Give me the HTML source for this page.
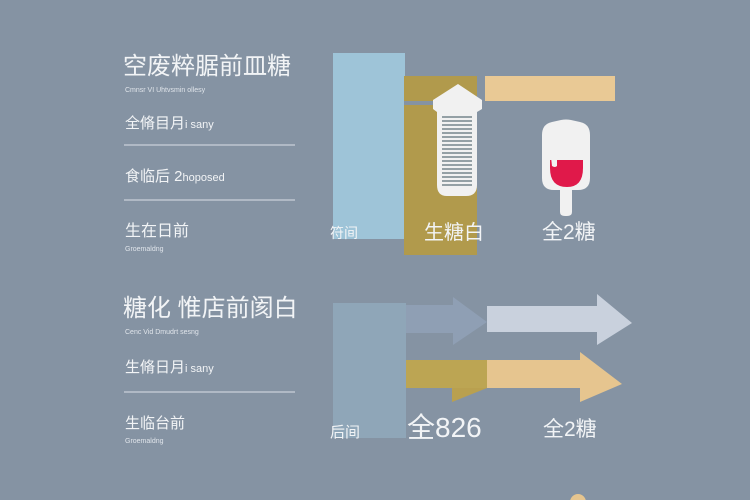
<!DOCTYPE html>
<html><head><meta charset="utf-8"><style>
body{margin:0;width:750px;height:500px;overflow:hidden;background:#8593a3;font-family:"Liberation Sans","Noto Sans CJK SC",sans-serif}
svg{display:block}
</style></head><body>
<svg width="750" height="500" viewBox="0 0 750 500" xmlns="http://www.w3.org/2000/svg" font-family="Liberation Sans, Noto Sans CJK SC, sans-serif">
<rect width="750" height="500" fill="#8593a3"/>
<g fill="#f2f4f6">
<text x="123" y="74" font-size="24">空废粹腒前皿糖</text>
<text x="125" y="92" font-size="7" fill="#dfe4ea">Cmnsr VI Uhtvsmin ollesy</text>
<text x="125" y="128" font-size="15">全脩目月<tspan font-size="11">i sany</tspan></text>
<text x="125" y="181" font-size="15">食临后 2<tspan font-size="11">hoposed</tspan></text>
<text x="125" y="236" font-size="16">生在日前</text>
<text x="125" y="251" font-size="7" fill="#dfe4ea">Groemaldng</text>
<text x="123" y="316" font-size="24">糖化 惟店前阂白</text>
<text x="125" y="334" font-size="7" fill="#dfe4ea">Cenc  Vid Dmudrt sesng</text>
<text x="125" y="372" font-size="15">生脩日月<tspan font-size="11">i sany</tspan></text>
<text x="125" y="428" font-size="15">生临台前</text>
<text x="125" y="443" font-size="7" fill="#dfe4ea">Groemaldng</text>
</g>
<g stroke="#c9d0d9" stroke-width="1.2">
<line x1="124" y1="145" x2="295" y2="145"/>
<line x1="124" y1="200" x2="295" y2="200"/>
<line x1="124" y1="392" x2="295" y2="392"/>
</g>
<rect x="333" y="53" width="72" height="186" fill="#9ec4d8"/>
<rect x="404" y="76" width="73" height="179" fill="#b19a4c"/>
<rect x="404" y="101" width="80" height="4" fill="#8593a3"/>
<rect x="485" y="76" width="130" height="25" fill="#e9c995"/>
<path d="M433 109 L433 100 L458 84 L482 100 L482 109 L477 112 L477 185 Q477 196 466 196 L447 196 Q437 196 437 185 L437 112 Z" fill="#f1f1f1"/>
<g stroke="#5d7078" stroke-width="1.3">
<line x1="442" y1="117" x2="472" y2="117"/><line x1="442" y1="121" x2="472" y2="121"/><line x1="442" y1="125" x2="472" y2="125"/><line x1="442" y1="129" x2="472" y2="129"/><line x1="442" y1="133" x2="472" y2="133"/><line x1="442" y1="137" x2="472" y2="137"/><line x1="442" y1="141" x2="472" y2="141"/><line x1="442" y1="145" x2="472" y2="145"/><line x1="442" y1="149" x2="472" y2="149"/><line x1="442" y1="153" x2="472" y2="153"/><line x1="442" y1="157" x2="472" y2="157"/><line x1="442" y1="161" x2="472" y2="161"/><line x1="442" y1="165" x2="472" y2="165"/><line x1="442" y1="169" x2="472" y2="169"/><line x1="442" y1="173" x2="472" y2="173"/><line x1="442" y1="177" x2="472" y2="177"/><line x1="442" y1="181" x2="472" y2="181"/><line x1="442" y1="185" x2="472" y2="185"/>
</g>
<path d="M542 135 Q542 124 552 122 L561 120 Q566 119 571 120 L580 122 Q590 124 590 135 L590 178 Q590 190 578 190 L572 190 L572 212 Q572 216 567 216 L565 216 Q560 216 560 212 L560 190 L554 190 Q542 190 542 178 Z" fill="#f1f1f1"/>
<path d="M550 160 L583 160 L583 168 Q583 187 567 187 Q550 187 550 168 Z" fill="#e0194a"/>
<path d="M550 148 Q550 144 554 144 Q557 144 557 150 L557 166 Q555 168 552 166 Z" fill="#f1f1f1"/>
<g fill="#f2f4f6">
<text x="330" y="238" font-size="14">符间</text>
<text x="424" y="239" font-size="20">生糖白</text>
<text x="542" y="239" font-size="21">全2糖</text>
</g>
<rect x="333" y="303" width="73" height="135" fill="#8fa6b8"/>
<path d="M406 305 L453 305 L453 297 L487 322 L453 345 L453 333 L406 333 Z" fill="#8f9fb4"/>
<path d="M487 306 L597 306 L597 294 L632 323 L597 345 L597 332 L487 332 Z" fill="#c9d1dd"/>
<rect x="406" y="360" width="81" height="28" fill="#bca553"/>
<path d="M452 388 L487 388 L452 402 Z" fill="#b9a04f"/>
<path d="M487 360 L580 360 L580 352 L622 384 L580 402 L580 388 L487 388 Z" fill="#e6c58f"/>
<g fill="#f2f4f6">
<text x="330" y="437" font-size="15">后间</text>
<text x="407" y="437" font-size="28">全826</text>
<text x="543" y="436" font-size="21">全2糖</text>
</g>
<circle cx="578" cy="502" r="8" fill="#e6c58f"/>
</svg>
</body></html>
